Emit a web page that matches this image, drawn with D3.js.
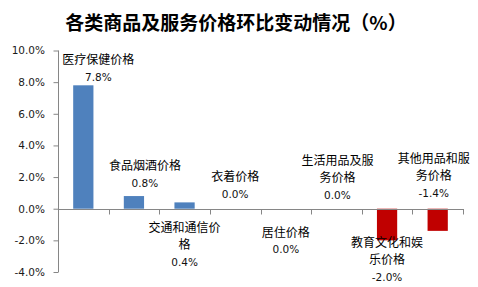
<!DOCTYPE html>
<html>
<head>
<meta charset="utf-8">
<script src="https://cdn.jsdelivr.net/npm/d3@7"></script>
<style>
  html, body { margin: 0; padding: 0; background: #fff; }
  svg { display: block; }
  .axis path, .axis line { stroke: #868686; }
  .axis text { font-family: 'DejaVu Sans', sans-serif; font-size: 10.5px; fill: #1a1a1a; }
</style>
</head>
<body>
<svg width="478" height="287"></svg>
<script>
const categories = ['医疗保健价格', '食品烟酒价格', '交通和通信价格', '衣着价格', '居住价格', '生活用品及服务价格', '教育文化和娱乐价格', '其他用品和服务价格'];
const values = [7.8, 0.8, 0.4, 0.0, 0.0, 0.0, -2.0, -1.4];
const yTicks = [-4, -2, 0, 2, 4, 6, 8, 10];

// label layout: lines of each category name, horizontal shift and vertical anchor (in % units)
const labelLines = [['医疗保健价格'], ['食品烟酒价格'], ['交通和通信价', '格'], ['衣着价格'], ['居住价格'], ['生活用品及服', '务价格'], ['教育文化和娱', '乐价格'], ['其他用品和服', '务价格']];
const labelShift = [15, 11, 0, 0, 0, 1, 0, -4];
const labelTop = [9.4, 2.71, -1.2, 2.0, -1.52, 3.04, -2.15, 3.16];
const lineGap = 17.5;

const svg = d3.select('svg');
const margin = { left: 58, right: 15, top: 50.5, bottom: 15 };
const plot = { w: 463 - 58, h: 272 - 50.5 };

const x = d3.scaleBand().domain(categories).range([margin.left, margin.left + plot.w]).paddingInner(0.6).paddingOuter(0.3);
const xTicks = d3.scaleBand().domain(categories).range([margin.left, margin.left + plot.w]);
const y = d3.scaleLinear().domain([-4, 10]).range([272, 50.5]);

svg.append('text')
    .attr('x', 236).attr('y', 30)
    .attr('text-anchor', 'middle')
    .style('font-family', "'Noto Sans CJK SC', sans-serif")
    .style('font-weight', 'bold')
    .style('font-size', '19px')
    .text('各类商品及服务价格环比变动情况（%）');

// y axis
svg.append('g')
    .attr('class', 'axis')
    .attr('transform', 'translate(' + margin.left + ',0)')
    .call(d3.axisLeft(y).tickValues(yTicks).tickSize(5).tickPadding(8).tickFormat((d) => d.toFixed(1) + '%'))
    .call((g) => g.select('.domain').attr('d', 'M0.5,' + y(-4) + 'V' + y(10)));
svg.selectAll('.axis .tick line').attr('transform', 'translate(0.5,0)');

// bars
svg.selectAll('.bar')
    .data(values)
    .enter()
    .append('rect')
    .attr('class', 'bar')
    .attr('x', (d, i) => x(categories[i]))
    .attr('width', x.bandwidth())
    .attr('y', (d) => y(Math.max(0, d)))
    .attr('height', (d) => Math.abs(y(d) - y(0)))
    .attr('fill', (d) => d < 0 ? '#C00000' : '#4F81BD');

// x axis at zero
const xa = svg.append('g').attr('class', 'axis');
xa.append('line')
    .attr('x1', margin.left).attr('x2', margin.left + plot.w)
    .attr('y1', Math.round(y(0)) + 0.5).attr('y2', Math.round(y(0)) + 0.5)
    .attr('stroke', '#868686');
xa.selectAll('.xt')
    .data(categories)
    .enter()
    .append('line')
    .attr('x1', (d) => Math.round(xTicks(d) + xTicks.bandwidth()) + 0.5)
    .attr('x2', (d) => Math.round(xTicks(d) + xTicks.bandwidth()) + 0.5)
    .attr('y1', Math.round(y(0))).attr('y2', Math.round(y(0)) + 5.5)
    .attr('stroke', '#868686');

// data labels
const labels = svg.selectAll('.lbl')
    .data(values)
    .enter()
    .append('g')
    .attr('transform', (d, i) => 'translate(' + (x(categories[i]) + x.bandwidth() / 2 + labelShift[i]) + ',' + y(labelTop[i]) + ')');

labels.each(function (d, i) {
    const g = d3.select(this);
    labelLines[i].forEach((line, k) => {
        g.append('text')
            .attr('y', k * lineGap)
            .attr('dy', '0.35em')
            .attr('text-anchor', 'middle')
            .style('font-family', "'Noto Sans CJK SC', sans-serif")
            .style('font-size', '12px')
            .text(line);
    });
    g.append('text')
        .attr('y', labelLines[i].length * lineGap - 0.5)
        .attr('dy', '0.35em')
        .attr('text-anchor', 'middle')
        .style('font-family', "'DejaVu Sans', sans-serif")
        .style('font-size', '10.5px')
        .attr('fill', '#111')
        .text(d.toFixed(1) + '%');
});
</script>
</body>
</html>
